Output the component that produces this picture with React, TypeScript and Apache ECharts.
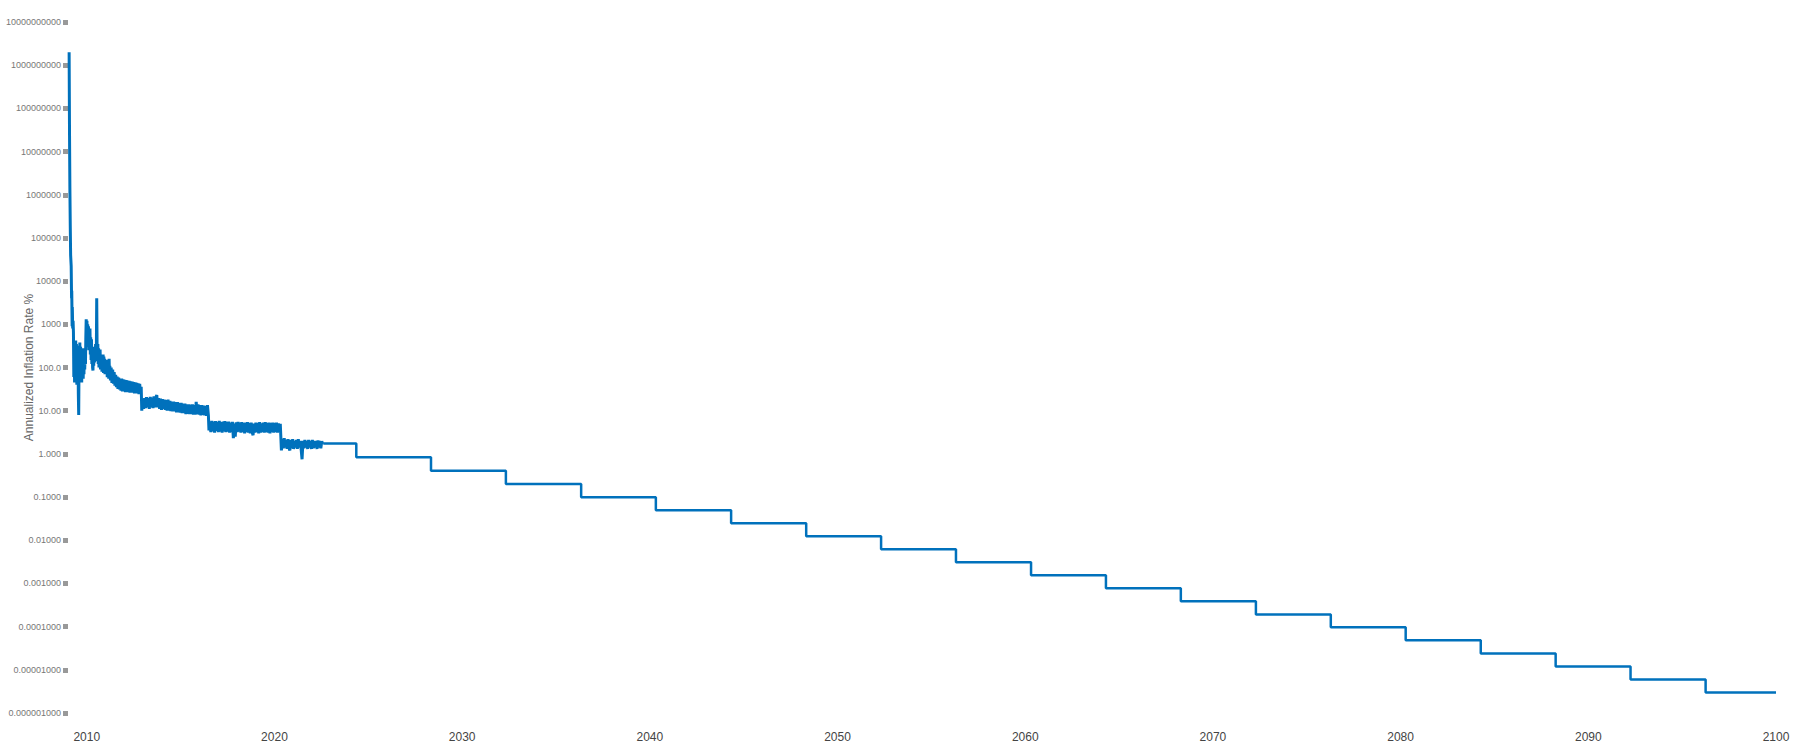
import React, { useEffect, useRef } from 'react';
import * as echarts from 'echarts';

const LINE_COLOR = '#0071bc';

// x axis labels
const yearTicks = [2010, 2020, 2030, 2040, 2050, 2060, 2070, 2080, 2090, 2100];

// first weeks after genesis: [decimal year, annualized inflation %]
const genesisDrop: [number, number][] = [
  [2009.06, 2.0e9], [2009.08, 3e7], [2009.1, 1.5e6], [2009.12, 2e5], [2009.14, 4e4],
  [2009.17, 2.2e4], [2009.19, 4000], [2009.2, 6000], [2009.22, 900], [2009.23, 2500],
  [2009.25, 800], [2009.27, 1200]
];

// noisy history at a regular sampling step (decimal years)
const band2009Start = 2009.29;
const band2009Step = 0.02;
const band2009 = [
  650, 60, 380, 45, 300, 70, 420, 50, 350, 40,
  260, 55, 320, 25, 8, 200, 60, 380, 50, 300,
  80, 250, 45, 220, 65, 280, 55, 200, 70, 260,
  90, 180, 120, 500, 1300, 400, 1200, 300, 1000, 350,
  900, 250, 700, 300, 800, 200, 500, 150, 450, 120,
  300, 100, 85, 250, 110, 300, 130, 280, 150, 350,
  140, 250, 4000, 300, 150, 350, 120, 280, 100, 230,
  110, 260, 90, 200, 120, 180, 80, 150, 100, 200,
  75, 180, 90, 160, 70, 130, 80, 150, 75, 110,
  60, 140, 70, 120, 55, 160, 70, 110
];

const band2011Start = 2011.26;
const band2011Step = 0.04;
const band2011 = [
  50, 100, 44, 90, 42, 78, 38, 68, 35, 62,
  32, 58, 31, 55, 29, 55, 28, 53, 28, 52,
  27, 51, 29, 50, 27, 49, 26, 48, 27, 47,
  26, 46, 25, 45, 26, 44, 25, 43, 24, 42,
  25, 36
];

const era2Start = 2012.93;
const era2Step = 0.05;
const era2 = [
  10, 18.5, 11, 19.5, 11.5, 20.5, 12, 19.5, 11, 21,
  12, 20, 11.5, 21.5, 12, 20.5, 23, 12, 19.5, 11,
  19, 10.5, 18.5, 11, 18, 10.5, 17.5, 10, 18, 10,
  16.8, 9.8, 16.2, 9.6, 16.2, 9.6, 15.7, 9.2, 15.7, 9.2,
  15.2, 9, 15.2, 8.8, 14.6, 8.8, 14.6, 8.3, 14, 8.5,
  14, 8.3, 13.8, 8.3, 14, 8.1, 13.5, 8.1, 16, 8.3,
  14, 8.1, 13.5, 7.8, 13.5, 8, 13, 7.8, 13, 7.6,
  13.5, 7.8
];

const era3Start = 2016.51;
const era3Step = 0.05;
const era3 = [
  3.5, 5.5, 3.2, 5.8, 3.3, 5.6, 3.1, 5.7, 3.4, 5.5,
  3.2, 5.8, 3.3, 5.4, 3.1, 5.6, 3.3, 5.7, 3.2, 5.5,
  3.3, 5.6, 3.1, 5.3, 3.2, 5.5, 2.3, 5.0, 2.5, 5.4,
  3.2, 5.5, 3.3, 5.3, 3.1, 5.4, 3.2, 5.2, 3.0, 5.3,
  3.2, 5.4, 3.1, 5.2, 3.0, 5.3, 3.2, 2.7, 5.0, 3.1,
  5.3, 3.2, 5.2, 3.0, 5.4, 3.1, 5.1, 3.2, 5.3, 3.1,
  5.4, 3.2, 5.2, 3.1, 5.3, 3.0, 5.2, 3.2, 5.3, 3.1,
  5.2, 3.2, 5.3, 3.1, 5.1, 3.2, 5.0
];

const era4Start = 2020.37;
const era4Step = 0.05;
const era4 = [
  1.2, 2.2, 1.35, 2.3, 1.4, 2.1, 1.3, 2.2, 1.4, 1.2,
  2.1, 1.35, 2.2, 1.3, 2.0, 1.4, 2.1, 1.3, 2.2, 1.4,
  2.0, 1.3, 0.75, 2.0, 1.35, 2.1, 1.4, 2.0, 1.3, 2.1,
  1.4, 2.0, 1.3, 2.1, 1.35, 2.0, 1.4, 2.0, 1.3, 2.05,
  1.4, 2.0, 1.35, 1.95, 1.7
];

// projection: current rate, then the rate after each halving, held until 2100
const projectionStart: [number, number] = [2022.6, 1.75];
const halvingYears = [
  2024.36, 2028.34, 2032.33, 2036.34, 2040.32, 2044.33, 2048.33, 2052.32, 2056.31, 2060.31,
  2064.3, 2068.29, 2072.29, 2076.28, 2080.27, 2084.27, 2088.26, 2092.25, 2096.25
];
const halvingRates = [
  0.83, 0.405, 0.2, 0.099, 0.0495, 0.0247, 0.0123, 0.0062, 0.0031, 0.00154,
  0.00077, 0.000385, 0.000192, 0.0000962, 0.0000481, 0.000024, 0.000012, 0.000006, 0.000003
];
const projectionEnd = 2100;

const sampled = (start: number, step: number, values: number[]) =>
  values.map((v, i) => [+(start + i * step).toFixed(3), v]);

const App = () => {
  const chartRef = useRef<HTMLDivElement>(null);

  useEffect(() => {
    if (!chartRef.current) return;
    document.body.style.margin = '0';

    const chart = echarts.init(chartRef.current, null, { renderer: 'svg' });

    const history = [
      ...genesisDrop,
      ...sampled(band2009Start, band2009Step, band2009),
      ...sampled(band2011Start, band2011Step, band2011),
      ...sampled(era2Start, era2Step, era2),
      ...sampled(era3Start, era3Step, era3),
      ...sampled(era4Start, era4Step, era4)
    ];

    const projection = [
      projectionStart,
      ...halvingYears.map((y, i) => [y, halvingRates[i]]),
      [projectionEnd, halvingRates[halvingRates.length - 1]]
    ];

    chart.setOption({
      animation: false,
      textStyle: { fontFamily: '"Liberation Sans", Arial, sans-serif' },
      grid: { left: 68, right: 22, top: 22, bottom: 43, outerBoundsMode: 'none' },
      xAxis: {
        type: 'value',
        min: 2009,
        max: 2100,
        axisLine: { show: false },
        axisTick: { show: false },
        splitLine: { show: false },
        axisLabel: {
          customValues: yearTicks,
          formatter: (v: number) => String(v),
          color: '#444',
          fontSize: 12,
          margin: 18
        }
      },
      yAxis: {
        type: 'log',
        logBase: 10,
        min: 1e-6,
        max: 1e10,
        interval: 1,
        name: 'Annualized Inflation Rate %',
        nameLocation: 'middle',
        nameGap: 33,
        nameMoveOverlap: false,
        nameTextStyle: { color: '#666', fontSize: 12 },
        axisLine: { show: false },
        splitLine: { show: false },
        axisTick: {
          show: true,
          length: 5,
          lineStyle: { color: '#999', width: 5 }
        },
        axisLabel: {
          color: '#777',
          fontSize: 9,
          margin: 7,
          formatter: (v: number) =>
            v >= 1000 ? String(Math.round(v)) : Number(v).toPrecision(4)
        }
      },
      series: [
        {
          name: 'History',
          type: 'line',
          data: history,
          showSymbol: false,
          lineStyle: { color: LINE_COLOR, width: 3 },
          itemStyle: { color: LINE_COLOR }
        },
        {
          name: 'Projection',
          type: 'line',
          step: 'end',
          data: projection,
          showSymbol: false,
          lineStyle: { color: LINE_COLOR, width: 2.5 },
          itemStyle: { color: LINE_COLOR }
        }
      ]
    });

    return () => {
      chart.dispose();
    };
  }, []);

  return <div ref={chartRef} style={{ width: '1798px', height: '756px' }} />;
};

export default App;
